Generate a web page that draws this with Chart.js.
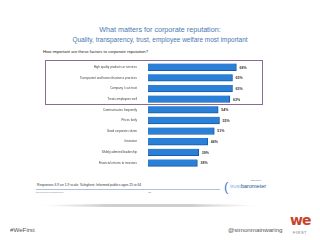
<!DOCTYPE html>
<html>
<head>
<meta charset="utf-8">
<script src="https://cdn.jsdelivr.net/npm/chart.js@4"></script>
<style>
  html, body { margin: 0; padding: 0; background: #fff; }
  #page { position: relative; width: 320px; height: 240px; overflow: hidden; font-family: 'Liberation Sans', Arial, sans-serif; }
  .t { position: absolute; white-space: nowrap; }
  .title { left: 0; width: 320px; text-align: center; color: #4a78b0; font-family: 'Liberation Sans Narrow', 'Liberation Sans', sans-serif; font-size: 7.2px; line-height: 10px; }
  #title1 { top: 25px; }
  #title2 { top: 35px; transform: scaleX(0.9); }
  #question { left: 43px; top: 49px; font-size: 4.2px; color: #222; }
  #box { position: absolute; left: 45px; top: 60px; width: 216px; height: 43px; border: 1px solid #8c6a98; }
  #chartWrap { position: absolute; left: 0; top: 57px; width: 320px; height: 116px; }
  #note { left: 37px; top: 183px; font-size: 3.3px; color: #333; }
  #rule { position: absolute; left: 36px; top: 189px; width: 184px; height: 1px; background: #a9c3df; }
  #src { left: 36px; top: 190.5px; font-size: 2px; color: #888; }
  #pg { left: 148px; top: 191px; font-size: 2.5px; color: #666; }
  #shadow { position: absolute; left: 40px; top: 204px; width: 218px; height: 3px; background: linear-gradient(to right, rgba(200,200,200,0), #cfcfcf 30%, #cfcfcf 70%, rgba(200,200,200,0)); border-radius: 50%; }
  #tag { left: 10px; top: 226px; font-size: 6.2px; color: #555; }
  #handle { left: 228px; top: 226px; font-size: 6.2px; color: #555; }
  #logo { position: absolute; left: 224px; top: 178px; width: 42px; height: 16px; }
  #we { left: 290px; top: 212px; font-size: 14px; font-weight: bold; color: #c8432c; letter-spacing: -1px; font-family: 'DejaVu Sans', sans-serif; }
  #first { left: 293px; top: 230px; font-size: 4px; color: #777; letter-spacing: 0.5px; }
</style>
</head>
<body>
<div id="page">
  <div class="t title" id="title1">What matters for corporate reputation:</div>
  <div class="t title" id="title2">Quality, transparency, trust, employee welfare most important</div>
  <div class="t" id="question">How important are these factors to corporate reputation?</div>
  <div id="chartWrap"><canvas id="chart" width="320" height="116"></canvas></div>
  <div id="box"></div>
  <div class="t" id="note">Responses 6-9 on 1-9 scale; 9=highest; Informed publics ages 25 to 64</div>
  <div id="rule"></div>
  <div class="t" id="src">Edelman 2011 Trust Barometer</div>
  <div class="t" id="pg">18</div>
  <div id="logo">
    <span class="t" style="left:0;top:1px;font-size:13px;color:#3a7cc0;font-weight:300;">(</span>
    <span class="t" style="left:27px;top:1px;font-size:2.5px;color:#3a7cc0;">Edelman</span>
    <span class="t" style="left:6px;top:5px;font-size:5.5px;color:#6db3e6;">trust</span><span class="t" style="left:17px;top:5px;font-size:5.5px;color:#1f4f8f;">barometer</span>
  </div>
  <div id="shadow"></div>
  <div class="t" id="tag">#WeFirst</div>
  <div class="t" id="handle">@simonmainwaring</div>
  <div class="t" id="we">we</div>
  <div class="t" id="first">FIRST</div>
</div>
<script>
const factors = [
  'High quality products or services',
  'Transparent and honest business practices',
  'Company I can trust',
  'Treats employees well',
  'Communicates frequently',
  'Prices fairly',
  'Good corporate citizen',
  'Innovator',
  'Widely admired leadership',
  'Financial returns to investors'
];
const importance = [68, 65, 65, 63, 54, 55, 51, 46, 39, 38];

// percent labels at the end of each bar
const valueLabels = {
  id: 'valueLabels',
  afterDatasetsDraw(chart) {
    const ctx = chart.ctx;
    const meta = chart.getDatasetMeta(0);
    ctx.save();
    ctx.font = 'bold 3.6px "Liberation Sans", Arial, sans-serif';
    ctx.fillStyle = '#333';
    ctx.textBaseline = 'middle';
    meta.data.forEach((bar, i) => {
      ctx.fillText(importance[i] + '%', bar.x + 3, bar.y + 0.5);
    });
    ctx.restore();
  }
};

new Chart(document.getElementById('chart'), {
  type: 'bar',
  data: {
    labels: factors,
    datasets: [{
      data: importance,
      backgroundColor: '#2a7fd6',
      borderColor: '#1a5aa6',
      borderWidth: { bottom: 1, right: 1, top: 0, left: 0 },
      borderSkipped: false,
      barThickness: 7
    }]
  },
  options: {
    indexAxis: 'y',
    responsive: false,
    animation: false,
    layout: { padding: { right: 42, top: 0, bottom: 0, left: 0 } },
    plugins: { legend: { display: false }, tooltip: { enabled: false } },
    scales: {
      x: { display: false, min: 0, max: 100 },
      y: {
        grid: { display: false },
        border: { display: false },
        afterFit(scale) { scale.width = 148; },
        ticks: {
          font: { size: 3, family: 'Liberation Sans, Arial, sans-serif' },
          color: '#444',
          padding: 3
        }
      }
    }
  },
  plugins: [valueLabels]
});
</script>
</body>
</html>
